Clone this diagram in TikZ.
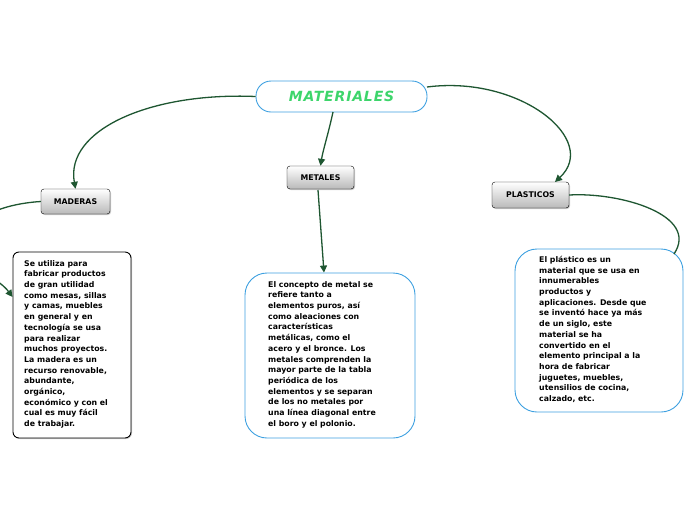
\documentclass[tikz,border=0pt]{standalone}
\usepackage{fontspec}
\setmainfont{DejaVu Sans}
\usetikzlibrary{arrows.meta,shadows}
\definecolor{lnk}{HTML}{1E5631}
\definecolor{blu}{HTML}{3DA0E0}
\definecolor{grn}{HTML}{3DD56B}
\begin{document}
\begin{tikzpicture}[x=1pt,y=-1pt,
  conn/.style={draw=lnk,line width=1.3pt,-{Triangle[length=7pt,width=7pt]}},
  plain/.style={draw=lnk,line width=1.3pt},
  topic/.style={draw=black,rounded corners=3pt,top color=white,bottom color=gray!55,drop shadow={shadow xshift=1pt,shadow yshift=-1pt,opacity=0.4},font=\bfseries\fontsize{7.8}{9}\selectfont,inner sep=0pt},
  txt/.style={anchor=north west,align=left,font=\bfseries\fontsize{7.8}{10.7}\selectfont,inner sep=0pt}]
\useasboundingbox (0,0) rectangle (696,520);
\node[draw=blu,line width=0.9pt,rounded corners=15pt,minimum width=171pt,minimum height=31pt,font=\bfseries\itshape\fontsize{14}{15}\selectfont,text=grn] (mat) at (341.5,96.5) {\addfontfeature{LetterSpace=6}MATERIALES};
\node[topic,minimum width=67pt,minimum height=23pt] (met) at (320.5,177.5) {METALES};
\node[topic,minimum width=69pt,minimum height=25pt] (mad) at (75.5,201.5) {MADERAS};
\node[topic,minimum width=77pt,minimum height=26pt] (pla) at (530.5,195) {PLASTICOS};
\node[draw=black,line width=0.9pt,rounded corners=6pt,minimum width=118pt,minimum height=186pt,drop shadow={shadow xshift=1pt,shadow yshift=-1pt,opacity=0.4},fill=white] (madb) at (72,345) {};
\node[draw=blu,line width=0.9pt,rounded corners=22pt,minimum width=170pt,minimum height=165pt] (metb) at (330,355.5) {};
\node[draw=blu,line width=0.9pt,rounded corners=22pt,minimum width=168pt,minimum height=163pt] (plab) at (599,330.5) {};
\node[txt] at (24,260) {Se utiliza para\\fabricar productos\\de gran utilidad\\como mesas, sillas\\y camas, muebles\\en general y en\\tecnología se usa\\para realizar\\muchos proyectos.\\La madera es un\\recurso renovable,\\abundante,\\orgánico,\\económico y con el\\cual es muy fácil\\de trabajar.};
\node[txt] at (268,281) {El concepto de metal se\\refiere tanto a\\elementos puros, así\\como aleaciones con\\características\\metálicas, como el\\acero y el bronce. Los\\metales comprenden la\\mayor parte de la tabla\\periódica de los\\elementos y se separan\\de los no metales por\\una línea diagonal entre\\el boro y el polonio.};
\node[txt] at (539,256) {El plástico es un\\material que se usa en\\innumerables\\productos y\\aplicaciones. Desde que\\se inventó hace ya más\\de un siglo, este\\material se ha\\convertido en el\\elemento principal a la\\hora de fabricar\\juguetes, muebles,\\utensilios de cocina,\\calzado, etc.};
\draw[conn] (mat.west) .. controls (150,92) and (65,130) .. (mad.north);
\draw[conn] (333,112) .. controls (328,135) and (323,150) .. (met.north);
\draw[conn] (427,87) .. controls (520,75) and (600,140) .. (555,182);
\draw[conn] (318,190) -- (metb.north-|324,0);
\draw[conn] (mad.west) .. controls (0,204) and (-40,220) .. (-30,250) .. controls (-22,272) and (0,280) .. (madb.west|-0,297);
\draw[plain] (pla.east) .. controls (620,192) and (700,215) .. (674,254);
\end{tikzpicture}
\end{document}
